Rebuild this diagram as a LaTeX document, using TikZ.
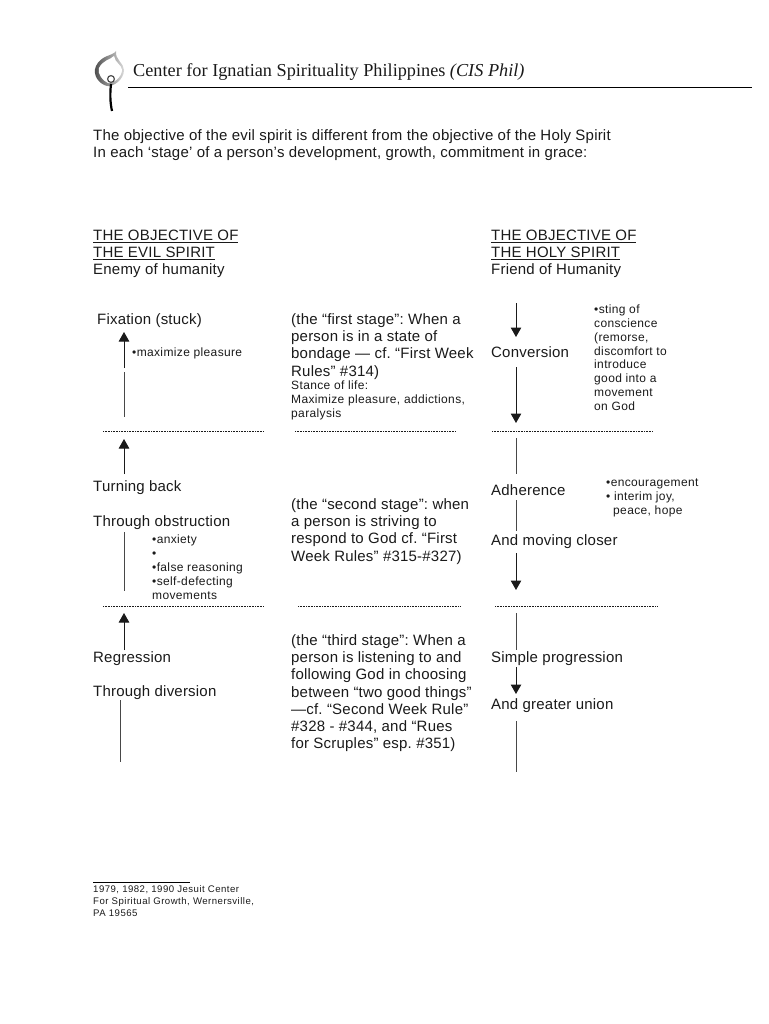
\documentclass[tikz,border=0pt]{standalone}
\usepackage{fontspec}
\setmainfont{Liberation Sans}
\newfontfamily\cistitlefont{Liberation Serif}
\usetikzlibrary{arrows.meta}
\definecolor{cistinta}{HTML}{1A1A1A}
\definecolor{cisflama}{HTML}{6E6E6E}
\tikzset{
  cistexto/.style={anchor=north west, inner sep=0pt, align=left, text=cistinta,
                   font=\fontsize{15}{17.2}\selectfont\addfontfeature{LetterSpace=1.4}\frenchspacing},
  cisnota/.style={anchor=north west, inner sep=0pt, align=left, text=cistinta,
                  font=\fontsize{12}{13.9}\selectfont\addfontfeature{LetterSpace=3}\frenchspacing},
  cisrodape/.style={anchor=north west, inner sep=0pt, align=left, text=cistinta,
                  font=\fontsize{9.6}{12}\selectfont\addfontfeature{LetterSpace=5}},
  cisseta/.style={-{Triangle[length=9.5pt,width=10.5pt]}, line width=1pt, draw=cistinta},
  cislinha/.style={line width=1pt, draw=cistinta!80},
  cisponto/.style={line width=0.7pt, draw=cistinta, dash pattern=on 1pt off 0.6pt},
}
\begin{document}
\begin{tikzpicture}[x=1pt,y=-1pt]
    \useasboundingbox (0,0) rectangle (768,1024);
    % logo
    \shade[left color=cisflama!60!black, right color=cisflama!25]
      (116,51) .. controls (113,56) and (101,55) .. (96,66) .. controls (92,75) and (99,84) .. (107,86)
      .. controls (113,87) and (124,80) .. (124,70) .. controls (124,63) and (115,60) .. (116,51) -- cycle;
    \fill[white] (114,56) .. controls (110,60) and (103,60) .. (99,68) .. controls (97,74) and (103,81) .. (108,83)
      .. controls (113,84) and (122,77) .. (122,70) .. controls (122,65) and (115,63) .. (114,56) -- cycle;
    \draw[cisflama!70!black, line width=1.2pt] (111,79) circle (3.4);
    \draw[black, line width=2.2pt] (111,84) .. controls (110,93) and (110,102) .. (112,111);
    % titulo
    \node[anchor=base west, inner sep=0pt, text=cistinta, font=\cistitlefont\fontsize{18.25}{20}\selectfont] (titulo) at (133,77)
      {Center for Ignatian Spirituality Philippines \textit{(CIS Phil)}};
    \coordinate (reguaA) at (128,87.5);
    \coordinate (reguaB) at (752,87.5);
    \draw[black, line width=1.6pt] (reguaA) -- (reguaB);
    % introducao
    \node[cistexto] (intro) at (93,129) {The objective of the evil spirit is different from the objective of the Holy Spirit\\In each ‘stage’ of a person’s development, growth, commitment in grace:};
    % colunas
    \node[cistexto] (evil) at (93,229.5) {\underline{THE OBJECTIVE OF}\\\underline{THE EVIL SPIRIT}\\Enemy of humanity};
    \node[cistexto] (holy) at (491,229.5) {\underline{THE OBJECTIVE OF}\\\underline{THE HOLY SPIRIT}\\Friend of Humanity};
    % coluna esquerda
    \node[cistexto] (fixation) at (97,313.5) {Fixation (stuck)};
    \node[cistexto] (turning) at (93,480.5) {Turning back};
    \node[cistexto] (obstruction) at (93,515.5) {Through obstruction};
    \node[cistexto] (regression) at (93,651.5) {Regression};
    \node[cistexto] (diversion) at (93,685.5) {Through diversion};
    \node[cisnota] (maximize) at (132,347.5) {•maximize pleasure};
    \node[cisnota] (anxiety) at (152,534.5) {•anxiety\\•\\•false reasoning\\•self-defecting\\movements};
    % coluna central
    \node[cistexto] (primeiro) at (291,313.5) {(the “first stage”: When a\\person is in a state of\\bondage — cf. “First Week\\Rules” \#314)};
    \node[cisnota] (stance) at (291,380.5) {Stance of life:\\Maximize pleasure, addictions,\\paralysis};
    \node[cistexto] (segundo) at (291,498.5) {(the “second stage”: when\\a person is striving to\\respond to God cf. “First\\Week Rules” \#315-\#327)};
    \node[cistexto] (terceiro) at (291,634.5) {(the “third stage”: When a\\person is listening to and\\following God in choosing\\between “two good things”\\—cf. “Second Week Rule”\\\#328 - \#344, and “Rues\\for Scruples” esp. \#351)};
    % coluna direita
    \node[cistexto] (conversion) at (491,346.5) {Conversion};
    \node[cistexto] (adherence) at (491,484.5) {Adherence};
    \node[cistexto] (closer) at (491,534.5) {And moving closer};
    \node[cistexto] (simple) at (491,651.5) {Simple progression};
    \node[cistexto] (union) at (491,698.5) {And greater union};
    \node[cisnota] (sting) at (594,304.5) {•sting of\\conscience\\(remorse,\\discomfort to\\introduce\\good into a\\movement\\on God};
    \node[cisnota] (encourage) at (606,478.5) {•encouragement\\• interim joy,\\\hspace*{7pt}peace, hope};
    % rodape
    \coordinate (notaA) at (93,882.5);
    \coordinate (notaB) at (190,882.5);
    \draw[black, line width=0.8pt] (notaA) -- (notaB);
    \node[cisrodape] (rodape) at (93,885.5) {1979, 1982, 1990 Jesuit Center\\For Spiritual Growth, Wernersville,\\PA 19565};
    % separadores
    \coordinate (s1a) at (103,431); \coordinate (s1b) at (264,431);
    \coordinate (s2a) at (295,431); \coordinate (s2b) at (456,431);
    \coordinate (s3a) at (492,431); \coordinate (s3b) at (653,431);
    \coordinate (s4a) at (103,606); \coordinate (s4b) at (264,606);
    \coordinate (s5a) at (298,606); \coordinate (s5b) at (460,606);
    \coordinate (s6a) at (495,606); \coordinate (s6b) at (657,606);
    \draw[cisponto] (s1a) -- (s1b);
    \draw[cisponto] (s2a) -- (s2b);
    \draw[cisponto] (s3a) -- (s3b);
    \draw[cisponto] (s4a) -- (s4b);
    \draw[cisponto] (s5a) -- (s5b);
    \draw[cisponto] (s6a) -- (s6b);
    % setas da esquerda
    \coordinate (e0) at (124,332); \coordinate (e1) at (124,368);
    \coordinate (e2) at (124,372); \coordinate (e3) at (124,417);
    \coordinate (e4) at (124,439); \coordinate (e5) at (124,474);
    \coordinate (e6) at (124,532); \coordinate (e7) at (124,591);
    \coordinate (e8) at (124,613); \coordinate (e9) at (124,650);
    \coordinate (e10) at (120,700); \coordinate (e11) at (120,762);
    \draw[cisseta] (e1) -- (e0);
    \draw[cislinha] (e2) -- (e3);
    \draw[cisseta] (e5) -- (e4);
    \draw[cislinha] (e6) -- (e7);
    \draw[cisseta] (e9) -- (e8);
    \draw[cislinha] (e10) -- (e11);
    % setas da direita
    \coordinate (d1) at (516,303); \coordinate (d2) at (516,337);
    \coordinate (d3) at (516,367); \coordinate (d4) at (516,423);
    \coordinate (d5) at (516,438); \coordinate (d6) at (516,474);
    \coordinate (d7) at (516,500); \coordinate (d8) at (516,531);
    \coordinate (d9) at (516,553); \coordinate (d10) at (516,590);
    \coordinate (d11) at (516,613); \coordinate (d12) at (516,650);
    \coordinate (d13) at (516,667); \coordinate (d14) at (516,694);
    \coordinate (d15) at (516,721); \coordinate (d16) at (516,772);
    \draw[cisseta] (d1) -- (d2);
    \draw[cisseta] (d3) -- (d4);
    \draw[cislinha] (d5) -- (d6);
    \draw[cislinha] (d7) -- (d8);
    \draw[cisseta] (d9) -- (d10);
    \draw[cislinha] (d11) -- (d12);
    \draw[cisseta] (d13) -- (d14);
    \draw[cislinha] (d15) -- (d16);
\end{tikzpicture}
\end{document}
